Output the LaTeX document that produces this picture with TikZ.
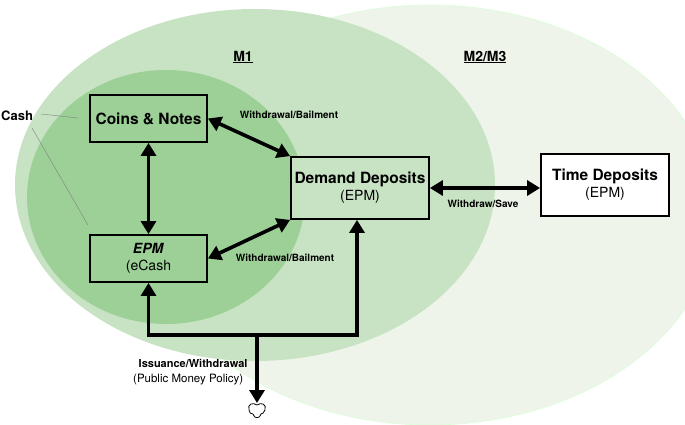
\documentclass[tikz,border=0pt]{standalone}
\usepackage{fontspec}
\setmainfont{TeX Gyre Heros}
\usetikzlibrary{arrows.meta}
\definecolor{pale}{HTML}{EEF4EA}
\definecolor{mid}{HTML}{C8E3C3}
\definecolor{dark}{HTML}{9CD097}
\begin{document}
\begin{tikzpicture}[x=1pt,y=-1pt,
  box/.style={draw=black,line width=1.8pt,align=center,inner sep=0pt},
  arr/.style={line width=3.6pt,{Triangle[length=13pt,width=15pt]}-{Triangle[length=13pt,width=15pt]}},
  one/.style={line width=3.6pt,-{Triangle[length=13pt,width=15pt]}},
  lab/.style={font=\bfseries\fontsize{10}{12}\selectfont}]
\useasboundingbox (0,0) rectangle (685,425);
\fill[pale] (430,215) ellipse [x radius=285,y radius=210];
\draw[white!85!green,line width=0.6pt] (430,215) ellipse [x radius=285,y radius=210];
\fill[mid] (255,185) ellipse [x radius=240,y radius=176];
\fill[dark] (166,197) ellipse [x radius=139,y radius=127];
\node[box,fill=dark,minimum width=117pt,minimum height=47pt,font=\bfseries\fontsize{15.5}{18}\selectfont] (cn) at (148.5,118.5) {Coins \& Notes};
\node[box,fill=dark,minimum width=117pt,minimum height=47pt,font=\fontsize{14}{17}\selectfont] (epm) at (148.5,258.5) {\textbf{\textit{EPM}}\\(eCash};
\node[box,fill=mid,minimum width=138pt,minimum height=62pt,font=\fontsize{14}{17}\selectfont] (dd) at (360,188) {\textbf{\fontsize{15.5}{18}\selectfont Demand Deposits}\\(EPM)};
\node[box,fill=white,minimum width=128pt,minimum height=62pt,font=\fontsize{14}{17}\selectfont] (td) at (605,185) {\textbf{\fontsize{15.5}{18}\selectfont Time Deposits}\\(EPM)};
\node[font=\bfseries\fontsize{14}{17}\selectfont] (m1) at (243,57) {\underline{M1}};
\node[font=\bfseries\fontsize{14}{17}\selectfont] (m2) at (485,57) {\underline{M2/M3}};
\node[font=\bfseries\fontsize{13}{15}\selectfont,anchor=west,inner sep=0pt] (cash) at (1,116) {Cash};
\coordinate (c1) at (78,118);
\coordinate (c2) at (88,225);
\draw[gray,line width=0.4pt] (41,114) -- (c1);
\draw[gray,line width=0.4pt] (32,128) -- (c2);
\draw[arr] (cn.south) -- (epm.north);
\draw[arr] (cn.east) -- (dd.north west);
\draw[arr] (epm.east) -- (dd.south west);
\draw[arr] (dd.east) -- (td.west |- dd.east);
\node[lab] (l1) at (289,115) {Withdrawal/Bailment};
\node[lab] (l2) at (285,258) {Withdrawal/Bailment};
\node[lab] (l3) at (483,204) {Withdraw/Save};
\coordinate (j) at (257,335);
\coordinate (b) at (257,403);
\draw[arr,line join=miter] (epm.south) |- (j) -| ([xshift=-3pt]dd.south);
\draw[one] (j) -- (b);
\node[anchor=east,font=\bfseries\fontsize{11}{13}\selectfont] (iw) at (251,363) {Issuance/Withdrawal};
\node[anchor=west,font=\fontsize{11.5}{13}\selectfont,inner sep=0pt] (pm) at (133,380) {(Public Money Policy)};
\draw[line width=0.8pt,fill=white] (249,410) .. controls (247,404) and (253,402) .. (257,405) .. controls (261,402) and (267,404) .. (265,410) .. controls (264,413) and (262,414) .. (261,414) .. controls (260,419) and (254,419) .. (253,414) .. controls (251,414) and (249,413) .. (249,410) -- cycle;
\end{tikzpicture}
\end{document}
